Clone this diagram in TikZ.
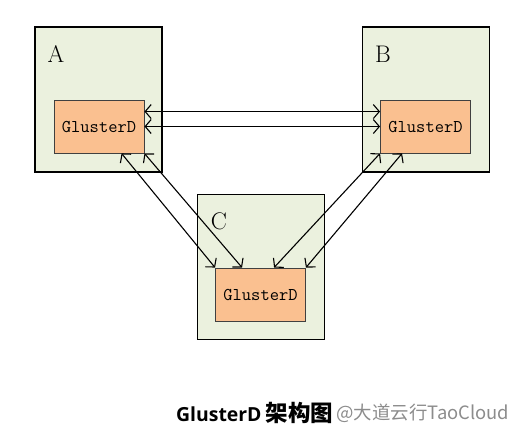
\documentclass[tikz,border=0pt]{standalone}
\usepackage{fontspec}
\newfontfamily\cjk{Noto Sans CJK SC}
\newfontfamily\cjkb{Noto Sans CJK SC Bold}
\newfontfamily\titlefont{Open Sans}
\usetikzlibrary{arrows.meta,calc}
\definecolor{outerfill}{HTML}{EBF1DE}
\definecolor{innerfill}{HTML}{FAC090}
\tikzset{
  hostbox/.style={draw=black, line width=1.2pt, fill=outerfill, minimum width=127pt, minimum height=145pt, inner sep=0pt},
  gdbox/.style={draw=black!75, line width=0.9pt, fill=innerfill, minimum width=90pt, minimum height=53pt, inner sep=0pt, font=\ttfamily\fontsize{18}{18}\selectfont},
  hostlabel/.style={font=\fontsize{24}{24}\selectfont, inner sep=0pt},
  link/.style={line width=1.1pt, {Straight Barb[length=6pt,width=14pt,line width=1.1pt]}-{Straight Barb[length=6pt,width=14pt,line width=1.1pt]}}
}
\begin{document}
\begin{tikzpicture}[x=1pt,y=-1pt]
\useasboundingbox (0,0) rectangle (526,434);
% hosts
\node[hostbox] (ha) at (98.5,99.5) {};
\node[hostbox] (hb) at (426,99.5) {};
\node[hostbox] (hc) at (261,267) {};
\node[hostlabel] (la) at (56,54) {A};
\node[hostlabel] (lb) at (383,54) {B};
\node[hostlabel] (lc) at (219,221) {C};
% glusterd
\node[gdbox] (ga) at (99,126.5) {GlusterD};
\node[gdbox] (gb) at (425.5,126.5) {GlusterD};
\node[gdbox] (gc) at (260.5,294.5) {GlusterD};
% horizontal links
\draw[link] ([yshift=-12pt]ga.north east) -- ([yshift=-12pt]gb.north west);
\draw[link] (ga.east) -- (gb.west);
% A - C
\draw[link] ([xshift=68pt]ga.south west) -- (gc.north west);
\draw[link] (ga.south east) -- ([xshift=27pt]gc.north west);
% B - C
\draw[link] (gb.south west) -- ([xshift=59pt]gc.north west);
\draw[link] ([xshift=22pt]gb.south west) -- (gc.north east);
% title and watermark
\node[anchor=west, inner sep=0pt] (title) at (176,413) {\titlefont\bfseries\fontsize{19.4}{20}\selectfont GlusterD\hspace{4pt}{\cjkb\fontsize{22.5}{22.5}\selectfont 架构图}};
\node[anchor=west, text=black!45, font=\cjk\fontsize{18.4}{18.4}\selectfont, inner sep=0pt] (wm) at ([xshift=3pt]title.east) {@大道云行TaoCloud};
\end{tikzpicture}
\end{document}
